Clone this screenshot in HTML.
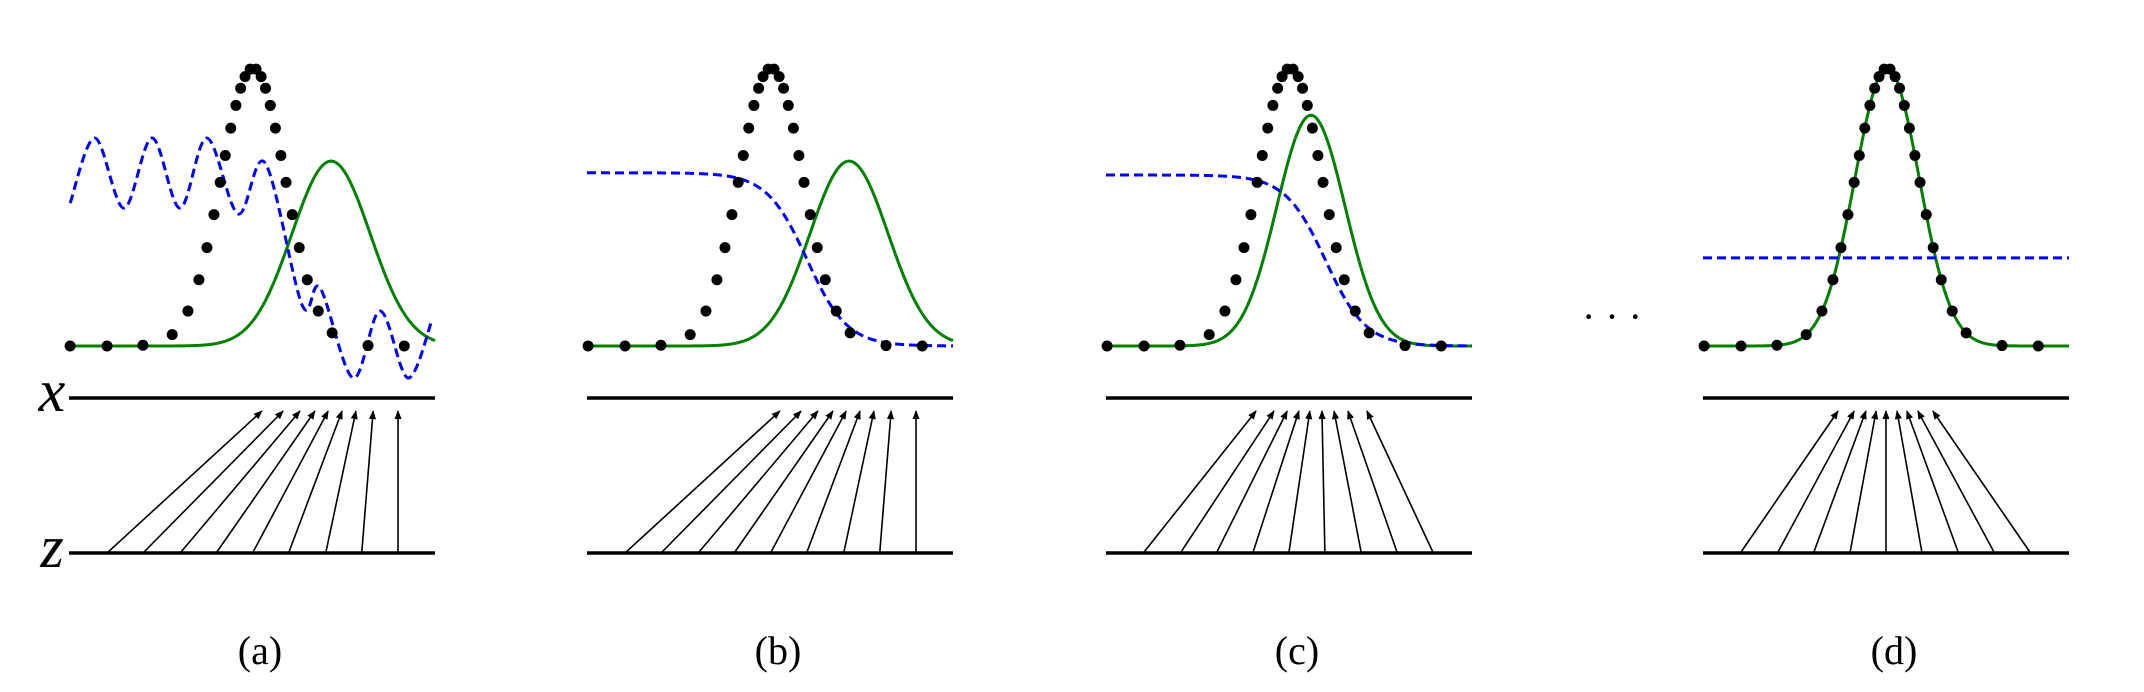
<!DOCTYPE html>
<html><head><meta charset="utf-8"><style>
html,body{margin:0;padding:0;background:#fff;}
svg{display:block;}
text{font-family:"Liberation Serif",serif;fill:#000;}
</style></head><body>
<svg id="fig" width="2144" height="692" viewBox="0 0 2144 692" xmlns="http://www.w3.org/2000/svg">
<defs>
<marker id="ah" viewBox="0 0 10 10" refX="9" refY="5" markerWidth="9" markerHeight="9" markerUnits="userSpaceOnUse" orient="auto">
<path d="M0,1 L10,5 L0,9 Z" fill="#000"/>
</marker>
</defs>
<text x="52" y="411" font-size="60" font-style="italic" font-family="Liberation Serif, serif" text-anchor="middle">x</text>
<text x="52" y="567" font-size="60" font-style="italic" font-family="Liberation Serif, serif" text-anchor="middle">z</text>
<text x="1612" y="330" font-size="40" text-anchor="middle">· · ·</text>
</svg>
<script>
// Shared data
const panelLabels = ["(a)", "(b)", "(c)", "(d)"];
const panelLefts = [69, 587, 1106, 1703];
// p_data (black dots) gaussian
const dataMean = 5.03, dataSigma = 0.874, dataAmp = 1.0;
// sample offsets of data dots from the mean
const dotOffsetsLeft = [5.0,3.99,3.01,2.21,1.78,1.48,1.26,1.07,0.90,0.76,0.61,0.47,0.34,0.22,0.08];
const dotOffsetsRight = [0.08,0.22,0.34,0.47,0.61,0.76,0.90,1.07,1.26,1.48,1.78,2.16,3.14,4.13];
// generator distribution (green) per panel
const greenMean = [7.16, 7.16, 5.6, 5.03];
const greenSigma = [1.07, 1.07, 0.93, 0.874];
const greenAmp = [0.665, 0.665, 0.83, 1.0];
// discriminator (blue) panel a: wavy points
const blueAX = [0.03,0.71,1.50,2.27,3.03,3.77,4.62,5.36,6.37,6.86,7.76,8.50,9.26,9.92];
const blueAY = [0.514,0.748,0.496,0.748,0.496,0.748,0.475,0.658,0.147,0.209,-0.115,0.126,-0.115,0.094];
// panels b,c sigmoid; d flat
const blueLevel = [null, 0.623, 0.615, 0.317];
const blueCenter = [null, 6.01, 6.0, null];
const blueWidth = [null, 0.55, 0.55, null];
// mapping arrows z -> x
const arrowBases = [
 [1.07,2.05,3.06,4.04,5.03,6.01,7.02,8.0,8.99],
 [1.07,2.05,3.06,4.04,5.03,6.01,7.02,8.0,8.99],
 [1.04,2.05,3.03,4.02,5.0,5.98,6.97,7.95,8.93],
 [1.04,2.05,3.03,4.02,5.0,5.98,6.97,7.95,8.93]];
const arrowHeads = [
 [5.27,5.85,6.31,6.72,7.08,7.46,7.84,8.31,8.99],
 [5.27,5.85,6.31,6.72,7.08,7.46,7.84,8.31,8.99],
 [4.10,4.59,4.95,5.27,5.57,5.90,6.23,6.61,7.13],
 [3.69,4.13,4.45,4.73,5.0,5.30,5.57,5.87,6.28]];

const svg = document.getElementById('fig');
const NS = 'http://www.w3.org/2000/svg';
const PW = 366, BASE = 346, YS = 278, XLINE = 398, ZLINE = 553, HEADY = 411;
function xs(p, v){ return panelLefts[p] + v * PW / 10; }
function ys(v){ return BASE - v * YS; }
function gauss(v, m, s, a){ return a * Math.exp(-0.5 * ((v - m) / s) ** 2); }
function mk(tag, attrs){ const e = document.createElementNS(NS, tag); for (const k in attrs) e.setAttribute(k, attrs[k]); return e; }

for (let p = 0; p < 4; p++){
  const g = mk('g', {});
  
  
  svg.appendChild(g);

  const xl = mk('line', {x1: xs(p,0), x2: xs(p,10), y1: XLINE, y2: XLINE, stroke: '#000', 'stroke-width': 3.5});
  
  
  g.appendChild(xl);
  const zl = mk('line', {x1: xs(p,0), x2: xs(p,10), y1: ZLINE, y2: ZLINE, stroke: '#000', 'stroke-width': 3.5});
  
  
  g.appendChild(zl);

  for (let i = 0; i < arrowBases[p].length; i++){
    const a = mk('line', {x1: xs(p, arrowBases[p][i]), y1: ZLINE - 1, x2: xs(p, arrowHeads[p][i]), y2: HEADY, stroke: '#000', 'stroke-width': 1.6, 'marker-end': 'url(#ah)'});
    
    
    g.appendChild(a);
  }

  let d = '';
  for (let k = 0; k <= 400; k++){ const v = k / 40; d += (k ? 'L' : 'M') + xs(p, v).toFixed(2) + ',' + ys(gauss(v, greenMean[p], greenSigma[p], greenAmp[p])).toFixed(2); }
  const gr = mk('path', {d: d, fill: 'none', stroke: '#008000', 'stroke-width': 3});
  
  

  let bd = '';
  if (p === 0){
    const P = blueAX.map((v, i) => [xs(p, v), ys(blueAY[i])]);
    bd = 'M' + P[0][0] + ',' + P[0][1];
    for (let i = 0; i < P.length - 1; i++){
      const p0 = P[Math.max(i-1,0)], p1 = P[i], p2 = P[i+1], p3 = P[Math.min(i+2,P.length-1)];
      const c1 = [p1[0] + (p2[0]-p0[0])/6, p1[1] + (p2[1]-p0[1])/6];
      const c2 = [p2[0] - (p3[0]-p1[0])/6, p2[1] - (p3[1]-p1[1])/6];
      bd += 'C' + c1[0].toFixed(2) + ',' + c1[1].toFixed(2) + ' ' + c2[0].toFixed(2) + ',' + c2[1].toFixed(2) + ' ' + p2[0].toFixed(2) + ',' + p2[1].toFixed(2);
    }
  } else {
    for (let k = 0; k <= 400; k++){
      const v = k / 40;
      const y = blueCenter[p] === null ? blueLevel[p] : blueLevel[p] / (1 + Math.exp((v - blueCenter[p]) / blueWidth[p]));
      bd += (k ? 'L' : 'M') + xs(p, v).toFixed(2) + ',' + ys(y).toFixed(2);
    }
  }
  const bl = mk('path', {d: bd, fill: 'none', stroke: '#0000ff', 'stroke-width': 3, 'stroke-dasharray': '9 5'});
  
  

  g.appendChild(gr);
  g.appendChild(bl);

  const dg = mk('g', {});
  
  
  const offs = dotOffsetsLeft.map(o => -o).concat(dotOffsetsRight);
  for (const o of offs){
    const v = dataMean + o;
    if (v < -0.05 || v > 10.05) continue;
    const c = mk('circle', {cx: xs(p, v).toFixed(2), cy: ys(gauss(v, dataMean, dataSigma, dataAmp)).toFixed(2), r: 5.5, fill: '#000'});
    
    
    dg.appendChild(c);
  }
  g.appendChild(dg);

  const t = mk('text', {x: xs(p, 5) + 8, y: 664, 'font-size': 40, 'text-anchor': 'middle'});
  t.textContent = panelLabels[p];
  
  
  g.appendChild(t);
}
</script>
</body></html>
